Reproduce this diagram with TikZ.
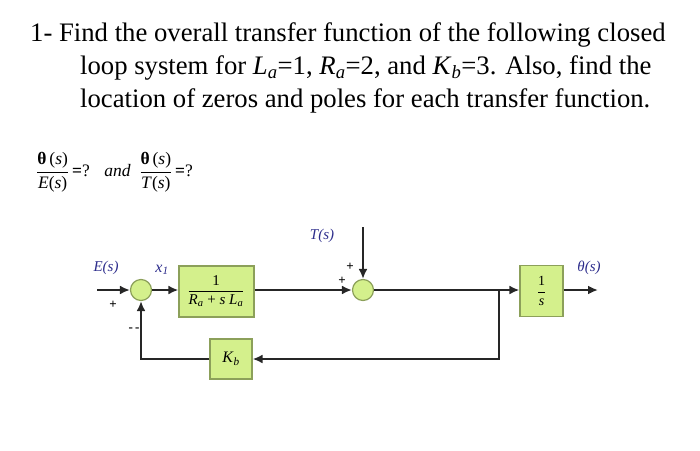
\documentclass[tikz,border=0pt]{standalone}
\usepackage{amsmath}
\usepackage{fontspec}
\setmainfont{Liberation Serif}
\usetikzlibrary{arrows.meta}
\definecolor{bfill}{RGB}{212,240,140}
\definecolor{bdraw}{RGB}{140,160,90}
\definecolor{lblue}{RGB}{45,45,140}
\newcommand{\myfr}[2]{$\dfrac{\text{#1}}{\text{#2}}$}
\begin{document}
\begin{tikzpicture}[x=1pt,y=-1pt,
  blk/.style={draw=bdraw,fill=bfill,line width=1.2pt,inner sep=0pt},
  sumj/.style={circle,draw=bdraw,fill=bfill,line width=1.2pt,minimum size=21pt,inner sep=0pt},
  ln/.style={line width=2pt,draw=black!85},
  ar/.style={ln,-{Latex[length=10pt,width=9pt]}},
  lbl/.style={font=\itshape\fontsize{15}{17}\selectfont,text=lblue},
  sgn/.style={font=\bfseries\fontsize{13}{13}\selectfont,inner sep=0pt},
  ttl/.style={anchor=west,font=\fontsize{26.7}{30}\selectfont,inner sep=0pt}]
\useasboundingbox (0,0) rectangle (700,450);
\node[ttl] (t1) at (30,35) {1- Find the overall transfer function of the following closed};
\node[ttl] (t2) at (80,68) {loop system for \textit{L}\textsubscript{\textit{a}}=1, \textit{R}\textsubscript{\textit{a}}=2, and \textit{K}\textsubscript{\textit{b}}=3. Also, find the};
\node[ttl] (t3) at (80,101) {location of zeros and poles for each transfer function.};
\node[anchor=west,font=\fontsize{17.5}{20}\selectfont,inner sep=0pt] (q) at (36,172) {\myfr{\textbf{θ}\,(\textit{s})}{\textit{E}(\textit{s})}\,\textbf{=}? \enspace\textit{and}\enspace \myfr{\textbf{θ}\,(\textit{s})}{\textit{T}(\textit{s})}\,\textbf{=}?};

\node[sumj] (s1) at (141,290) {};
\node[sumj] (s2) at (363,290) {};
\node[blk,minimum width=75pt,minimum height=51pt] (b1) at (216.5,291.5) {};
\node[font=\fontsize{15}{17}\selectfont] (b1t) at (216,291) {\myfr{1}{\textit{R}\textsubscript{\textit{a}} + \textit{s L}\textsubscript{\textit{a}}}};
\node[blk,minimum width=43pt,minimum height=51pt] (b3) at (541.5,291) {};
\node[font=\fontsize{14}{17}\selectfont] (b3t) at (541.5,291) {\myfr{1}{\textit{s}}};
\node[blk,minimum width=42pt,minimum height=40pt,font=\fontsize{16}{17}\selectfont] (kb) at (231,359) {\textit{K}\textsubscript{\textit{b}}};
\coordinate (in) at (97,290);
\coordinate (out) at (598,290);
\coordinate (br) at (499,290);
\coordinate (tin) at (363,227);
\coordinate (fl) at (141,359);
\coordinate (fr) at (499,359);

\draw[ar] (in) -- (s1);
\draw[ar] (s1) -- (b1.west |- s1);
\draw[ar] (b1.east |- s2) -- (s2);
\draw[ar] (s2) -- (b3.west |- s2);
\draw[ar] (b3.east |- s2) -- (out);
\draw[ar] (tin) -- (s2);
\draw[ar] (br) -- (fr) -- (kb.east);
\draw[ar] (kb.west) -- (fl) -- (s1);

\node[lbl] (le) at (106,268) {E(s)};
\node[lbl,font=\itshape\fontsize{16}{17}\selectfont] (lx) at (162,270) {x\textsubscript{\textit{1}}};
\node[lbl] (lt) at (322,236) {T(s)};
\node[lbl] (lo) at (589,268) {θ(s)};
\node[sgn] (p1) at (113,305) {+};
\node[sgn] (m1) at (134,330) {-\,-};
\node[sgn] (p2) at (350,267) {+};
\node[sgn] (p3) at (342,281) {+};
\end{tikzpicture}
\end{document}
